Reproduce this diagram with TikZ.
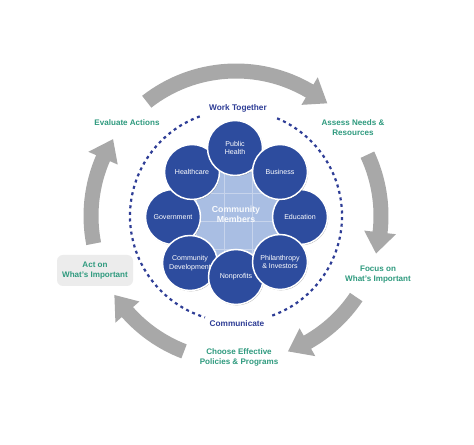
\documentclass[tikz,border=0pt]{standalone}
\usepackage{fontspec}
\setmainfont{Liberation Sans}
\setsansfont{Liberation Sans}
\usetikzlibrary{shadows}
\definecolor{cblue}{HTML}{2D4C9E}
\definecolor{lblue}{HTML}{A9BEE3}
\definecolor{arrowgray}{HTML}{A8A8A8}
\definecolor{teal}{HTML}{2E9A7E}
\definecolor{navy}{HTML}{2E3D96}
\definecolor{boxgray}{HTML}{ECECEC}
\newcommand\cyclearrow[2]{%
  \fill[arrowgray] (#1:152.5) arc[start angle=#1, end angle=#2+8.5, radius=152.5]
    -- (#2+8.5:161) -- (#2:145) -- (#2+8.5:129) -- (#2+8.5:137.5)
    arc[start angle=#2+8.5, end angle=#1, radius=137.5] -- cycle;}
\tikzset{
  member/.style={circle, minimum size=55bp, inner sep=0pt, fill=cblue, draw=white,
    line width=1.5bp, text=white, align=center,
    font=\fontsize{7.1}{8.5}\selectfont,
    drop shadow={shadow xshift=0.7bp, shadow yshift=-0.9bp, fill=black, opacity=0.3}},
  steplabel/.style={text=teal, align=center, font=\bfseries\fontsize{8.1}{10}\selectfont},
  ringlabel/.style={text=navy, font=\bfseries\fontsize{8.3}{10}\selectfont},
  dotring/.style={draw=navy, line width=2.2bp, dash pattern=on 3bp off 3.6bp},
  centersq/.style={minimum size=84bp, inner sep=0pt, fill=lblue},
  centertext/.style={text=white!92!lblue, align=center, font=\bfseries\fontsize{8.8}{10}\selectfont},
}
\begin{document}
\begin{tikzpicture}[x=1bp,y=1bp]
\useasboundingbox (0,0) rectangle (474,445);
\fill[white] (0,0) rectangle (474,445);
% gray cycle arrows
\begin{scope}[shift={(236,229)}]
  \cyclearrow{128}{51}
  \cyclearrow{25}{-15}
  \cyclearrow{-34}{-69}
  \cyclearrow{-111}{-147}
  \cyclearrow{191}{148}
  % dotted ring
  \draw[dotring] (110:106) arc[start angle=110, end angle=253, radius=106];
  \draw[dotring] (-70:106) arc[start angle=-70, end angle=68, radius=106];
\end{scope}
% centre square
\node[centersq] (cm) at (236,231) {};
\draw[white, opacity=0.35, line width=0.6bp] (cm.north west) grid[step=28bp] (cm.south east);
\node[centertext] (cmt) at (cm.center) {Community\\Members};
% member circles
\node[member] (gov) at (173,228) {Government};
\node[member] (cd) at (190,182) {Community\\Development};
\node[member] (np) at (236,168) {Nonprofits};
\node[member] (edu) at (300,228) {Education};
\node[member] (phil) at (280,183) {Philanthropy\\\& Investors};
\node[member] (hc) at (192,273) {Healthcare};
\node[member] (ph) at (235,297) {Public\\Health};
\node[member] (bus) at (280,273) {Business};
% ring labels
\node[ringlabel] (wt) at (238,337) {Work Together};
\node[ringlabel] (com) at (237,121) {Communicate};
% step labels
\node[steplabel] (eval) at (127,322) {Evaluate Actions};
\node[steplabel] (assess) at (353,317) {Assess Needs \&\\Resources};
\node[steplabel] (focus) at (378,170) {Focus on\\What's Important};
\node[steplabel] (choose) at (239,87.5) {Choose Effective\\Policies \& Programs};
\node[steplabel, fill=boxgray, rounded corners=6bp, minimum width=76bp, minimum height=31bp, inner sep=2bp] (act) at (95,174.5) {Act on\\What's Important};
\end{tikzpicture}
\end{document}
